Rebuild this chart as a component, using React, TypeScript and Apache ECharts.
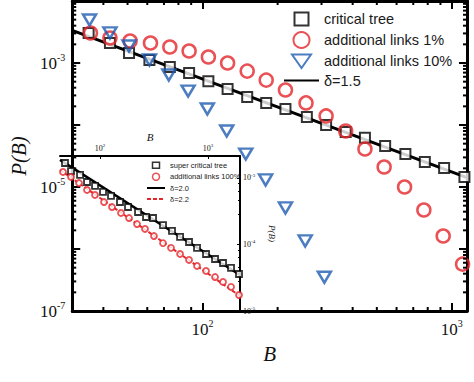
import React, { useEffect, useRef } from 'react';
import * as echarts from 'echarts';

// ---- main plot data ----
const critB = [34.9, 42.5, 50.7, 61.2, 73.9, 88.3, 105.5, 126, 151, 180, 215, 262, 313, 375, 448, 540, 651, 779, 931, 1123];
const critP = [3.05e-3, 2.1e-3, 1.45e-3, 1.12e-3, 8.6e-4, 6.9e-4, 5.1e-4, 3.8e-4, 2.83e-4, 2.27e-4, 1.81e-4, 1.35e-4, 1.0e-4, 7.7e-5, 6.2e-5, 4.6e-5, 3.4e-5, 2.53e-5, 2.02e-5, 1.45e-5];
const add1B = [35.5, 42.5, 51.2, 61.8, 73.9, 88.3, 105.5, 126, 151, 180, 215, 260, 313, 375, 448, 535, 646, 772, 923, 1104];
const add1P = [3.05e-3, 2.53e-3, 2.26e-3, 2.1e-3, 1.81e-3, 1.56e-3, 1.25e-3, 1.0e-3, 7.4e-4, 5.3e-4, 3.67e-4, 2.27e-4, 1.4e-4, 8.0e-5, 4.1e-5, 2.1e-5, 1.0e-5, 4.26e-6, 1.62e-6, 5.7e-7];
const add10B = [35.2, 42.5, 50.7, 61.2, 73.2, 87.5, 104.5, 125, 149, 179, 215, 258, 308];
const add10P = [4.94e-3, 3.05e-3, 1.88e-3, 1.12e-3, 6.4e-4, 3.53e-4, 1.81e-4, 8.0e-5, 3.4e-5, 1.3e-5, 4.6e-6, 1.35e-6, 3.5e-7];
const fit15B = [30, 1150];
const fit15P = [3.37e-3, 1.42e-5];

// ---- inset data ----
const superB = [47.4, 53.9, 65.3, 75.8, 89.9, 106.6, 126.4, 153.1, 181.6, 224.9, 266.7, 309.6, 383, 464, 551, 667, 791, 958, 1161, 1377, 1633, 1936];
const superP = [1.68e-3, 1.27e-3, 1.11e-3, 8.7e-4, 7.6e-4, 6.2e-4, 5.4e-4, 4.35e-4, 3.66e-4, 3.08e-4, 2.59e-4, 2.5e-4, 1.96e-4, 1.6e-4, 1.3e-4, 1.09e-4, 8.9e-5, 7.2e-5, 6.05e-5, 5.27e-5, 4.44e-5, 3.6e-5];
const add100B = [45.4, 53.9, 63.9, 75.8, 89.9, 108.9, 129.1, 156.4, 185.6, 220.1, 261, 316, 383, 454, 551, 667, 791, 958, 1161, 1377, 1633, 1936];
const add100P = [1.23e-3, 1.035e-3, 8.4e-4, 6.6e-4, 5.55e-4, 4.35e-4, 3.66e-4, 2.98e-4, 2.5e-4, 2.03e-4, 1.71e-4, 1.34e-4, 1.05e-4, 8.9e-5, 7.2e-5, 5.85e-5, 4.75e-5, 4.0e-5, 3.24e-5, 2.73e-5, 2.3e-5, 1.74e-5];
const fit20B = [42.6, 1977];
const fit20P = [1.87e-3, 3.48e-5];
const fit22B = [42.6, 1977];
const fit22P = [1.32e-3, 1.68e-5];

// ---- axis ticks ----
const xMinorTicks = [40, 50, 60, 70, 80, 90, 200, 300, 400, 500, 600, 700, 800, 900];
const yMinorTicks = [
  2e-7, 3e-7, 4e-7, 5e-7, 6e-7, 7e-7, 8e-7, 9e-7,
  2e-6, 3e-6, 4e-6, 5e-6, 6e-6, 7e-6, 8e-6, 9e-6,
  2e-5, 3e-5, 4e-5, 5e-5, 6e-5, 7e-5, 8e-5, 9e-5,
  2e-4, 3e-4, 4e-4, 5e-4, 6e-4, 7e-4, 8e-4, 9e-4,
  2e-3, 3e-3, 4e-3, 5e-3, 6e-3, 7e-3, 8e-3, 9e-3,
];

const RED = '#e5262b';
const BLUE = '#1f5db0';
const SERIF = '"Liberation Serif", "Times New Roman", serif';
const SANS = '"Liberation Sans", Arial, sans-serif';

// legend icons: invisible corner moves keep the glyph's aspect inside the icon box
const ICON_SQ = 'path://M0,0 M35,16 M10.5,1.5 L24.5,1.5 L24.5,14.5 L10.5,14.5 Z';
const ICON_TRI = 'path://M0,0 M35,16 M8,1.5 L27,1.5 L17.5,15 Z';
const ICON_SQ_S = 'path://M0,0 M18,7 M5.5,0.5 L12.5,0.5 L12.5,6.5 L5.5,6.5 Z';

const zip = (a: number[], b: number[]) => a.map((v, i) => [v, b[i]]);

const powLabel = (onlyOdd: boolean) => (v: number) => {
  const l = Math.log10(v);
  const e = Math.round(l);
  if (Math.abs(l - e) > 1e-6) return '';
  if (onlyOdd && e % 2 === 0) return '';
  return '{b|10}{s|' + e + '}';
};

export default function App() {
  const ref = useRef<HTMLDivElement>(null);
  useEffect(() => {
    if (!ref.current) return;
    const chart = echarts.init(ref.current, null, { renderer: 'svg' });
    const mainRich = {
      b: { fontSize: 17, fontFamily: SERIF, color: '#111', lineHeight: 22 },
      s: { fontSize: 10, fontFamily: SERIF, color: '#111', verticalAlign: 'top', lineHeight: 10 },
    };
    const insetRich = {
      b: { fontSize: 8, fontFamily: SERIF, color: '#111', lineHeight: 10 },
      s: { fontSize: 5, fontFamily: SERIF, color: '#111', verticalAlign: 'top', lineHeight: 5 },
    };
    const tickSeries = (data: number[][], isX: boolean) => ({
      type: 'custom',
      xAxisIndex: 0,
      yAxisIndex: 0,
      silent: true,
      clip: false,
      z: 5,
      data,
      renderItem: (params: any, api: any) => {
        const cs = params.coordSys;
        const p = api.coord([api.value(0), api.value(1)]);
        const L = 4;
        const st = { stroke: '#000', lineWidth: 2 };
        if (isX) {
          const x = p[0];
          return {
            type: 'group',
            children: [
              { type: 'line', shape: { x1: x, y1: cs.y + cs.height, x2: x, y2: cs.y + cs.height - L }, style: st },
              { type: 'line', shape: { x1: x, y1: cs.y, x2: x, y2: cs.y + L }, style: st },
            ],
          };
        }
        const y = p[1];
        return {
          type: 'group',
          children: [
            { type: 'line', shape: { x1: cs.x, y1: y, x2: cs.x + L, y2: y }, style: st },
            { type: 'line', shape: { x1: cs.x + cs.width, y1: y, x2: cs.x + cs.width - L, y2: y }, style: st },
          ],
        };
      },
    });

    const mainAxisLine = { show: true, lineStyle: { color: '#000', width: 3 } };
    const mainTick = { show: true, inside: true, length: 8, lineStyle: { color: '#000', width: 2 } };
    const hideSym = { opacity: 0 };

    chart.setOption({
      animation: false,
      backgroundColor: '#fff',
      grid: [
        { left: 60, top: 1, width: 407, height: 310, show: false },
        { left: 60, top: 156, width: 180, height: 155, show: true, backgroundColor: '#fff', borderWidth: 0 },
      ],
      legend: [
        {
          data: [
            { name: 'critical tree', icon: ICON_SQ },
            { name: 'additional links 1%', icon: 'circle' },
            { name: 'additional links 10%', icon: ICON_TRI },
            { name: 'δ=1.5', itemStyle: hideSym },
          ],
          orient: 'vertical',
          left: 283,
          top: 10,
          padding: 0,
          itemWidth: 35,
          itemHeight: 16,
          itemGap: 3,
          symbolKeepAspect: true,
          textStyle: { fontSize: 14.5, fontFamily: SANS, color: '#1a1a1a' },
        },
        {
          data: [
            { name: 'super critical tree', icon: ICON_SQ_S },
            { name: 'additional links 100%', icon: 'circle' },
            { name: 'δ=2.0', itemStyle: hideSym },
            { name: 'δ=2.2', itemStyle: hideSym },
          ],
          orient: 'vertical',
          left: 146,
          top: 161,
          padding: 0,
          itemWidth: 18,
          itemHeight: 7,
          itemGap: 3,
          itemStyle: { borderWidth: 1.5 },
          symbolKeepAspect: true,
          textStyle: { fontSize: 7.5, fontFamily: SANS, color: '#1a1a1a' },
        },
      ],
      xAxis: [
        {
          type: 'log', gridIndex: 0, position: 'bottom', min: 30, max: 1150,
          axisLine: mainAxisLine, axisTick: mainTick, splitLine: { show: false },
          axisLabel: { formatter: powLabel(false), margin: 7, rich: mainRich, showMinLabel: false, showMaxLabel: false },
          name: 'B', nameLocation: 'middle', nameGap: 32,
          nameTextStyle: { fontSize: 21, fontStyle: 'italic', fontFamily: SERIF, color: '#111' },
        },
        {
          type: 'log', gridIndex: 0, position: 'top', min: 30, max: 1150,
          axisLine: mainAxisLine, axisTick: mainTick, splitLine: { show: false }, axisLabel: { show: false },
        },
        {
          type: 'log', gridIndex: 1, position: 'top', min: 42.6, max: 1977,
          axisLine: { show: true, lineStyle: { color: '#000', width: 2 } },
          axisTick: { show: true, inside: true, length: 3, lineStyle: { color: '#000', width: 1 } },
          splitLine: { show: false },
          axisLabel: { formatter: powLabel(false), margin: 3, rich: insetRich, showMinLabel: false, showMaxLabel: false },
          name: 'B', nameLocation: 'middle', nameGap: 13,
          nameTextStyle: { fontSize: 11, fontStyle: 'italic', fontFamily: SERIF, color: '#111' },
        },
      ],
      yAxis: [
        {
          type: 'log', gridIndex: 0, position: 'left', min: 1e-7, max: 1e-2,
          axisLine: mainAxisLine, axisTick: mainTick, splitLine: { show: false },
          axisLabel: { formatter: powLabel(true), margin: 7, rich: mainRich },
          name: 'P(B)', nameLocation: 'middle', nameGap: 33, nameRotate: 90,
          nameTextStyle: { fontSize: 21, fontStyle: 'italic', fontFamily: SERIF, color: '#111' },
        },
        {
          type: 'log', gridIndex: 0, position: 'right', min: 1e-7, max: 1e-2,
          axisLine: mainAxisLine, axisTick: mainTick, splitLine: { show: false }, axisLabel: { show: false },
        },
        {
          type: 'log', gridIndex: 1, position: 'right', min: 1e-5, max: 2.14e-3,
          axisLine: { show: true, lineStyle: { color: '#000', width: 2 } },
          axisTick: { show: true, inside: true, length: 3, lineStyle: { color: '#000', width: 1 } },
          minorTick: { show: true, splitNumber: 5, length: 2, lineStyle: { color: '#000', width: 1 } },
          splitLine: { show: false },
          axisLabel: { formatter: powLabel(false), margin: 3, rich: insetRich, showMinLabel: true, showMaxLabel: false },
          name: 'P(B)', nameLocation: 'middle', nameGap: 27, nameRotate: -90,
          nameTextStyle: { fontSize: 9, fontStyle: 'italic', fontFamily: SERIF, color: '#111' },
        },
      ],
      series: [
        {
          name: 'δ=1.5', type: 'line', xAxisIndex: 0, yAxisIndex: 0, data: zip(fit15B, fit15P),
          showSymbol: false, lineStyle: { color: '#000', width: 3 }, itemStyle: { color: '#000' }, z: 2,
        },
        {
          name: 'critical tree', type: 'scatter', xAxisIndex: 0, yAxisIndex: 0, data: zip(critB, critP),
          symbol: 'rect', symbolSize: 10, itemStyle: { color: '#fff', borderColor: '#000', borderWidth: 2 }, z: 3,
        },
        {
          name: 'additional links 1%', type: 'scatter', xAxisIndex: 0, yAxisIndex: 0, data: zip(add1B, add1P),
          symbol: 'circle', symbolSize: 13, itemStyle: { color: 'rgba(255,255,255,0)', borderColor: RED, borderWidth: 2.5 }, z: 4,
        },
        {
          name: 'additional links 10%', type: 'scatter', xAxisIndex: 0, yAxisIndex: 0, data: zip(add10B, add10P),
          symbol: 'triangle', symbolRotate: 180, symbolSize: [13, 11],
          itemStyle: { color: 'rgba(255,255,255,0)', borderColor: BLUE, borderWidth: 2.5 }, z: 4,
        },
        tickSeries(xMinorTicks.map((v) => [v, 1e-7]), true),
        tickSeries(yMinorTicks.map((v) => [30, v]), false),
        {
          name: 'δ=2.0', type: 'line', xAxisIndex: 2, yAxisIndex: 2, data: zip(fit20B, fit20P),
          showSymbol: false, lineStyle: { color: '#000', width: 2.5 }, itemStyle: { color: '#000' }, z: 6,
        },
        {
          name: 'δ=2.2', type: 'line', xAxisIndex: 2, yAxisIndex: 2, data: zip(fit22B, fit22P),
          showSymbol: false, lineStyle: { color: RED, width: 2, type: [4, 2] }, itemStyle: { color: RED }, z: 6,
        },
        {
          name: 'super critical tree', type: 'scatter', xAxisIndex: 2, yAxisIndex: 2, data: zip(superB, superP),
          symbol: 'rect', symbolSize: 6, itemStyle: { color: '#fff', borderColor: '#000', borderWidth: 1.8 }, z: 7,
        },
        {
          name: 'additional links 100%', type: 'scatter', xAxisIndex: 2, yAxisIndex: 2, data: zip(add100B, add100P),
          symbol: 'circle', symbolSize: 6, itemStyle: { color: '#fff', borderColor: RED, borderWidth: 1.8 }, z: 7,
        },
      ],
    });
    return () => chart.dispose();
  }, []);
  return <div ref={ref} style={{ width: 474, height: 382, position: 'absolute', left: 0, top: 0 }} />;
}
